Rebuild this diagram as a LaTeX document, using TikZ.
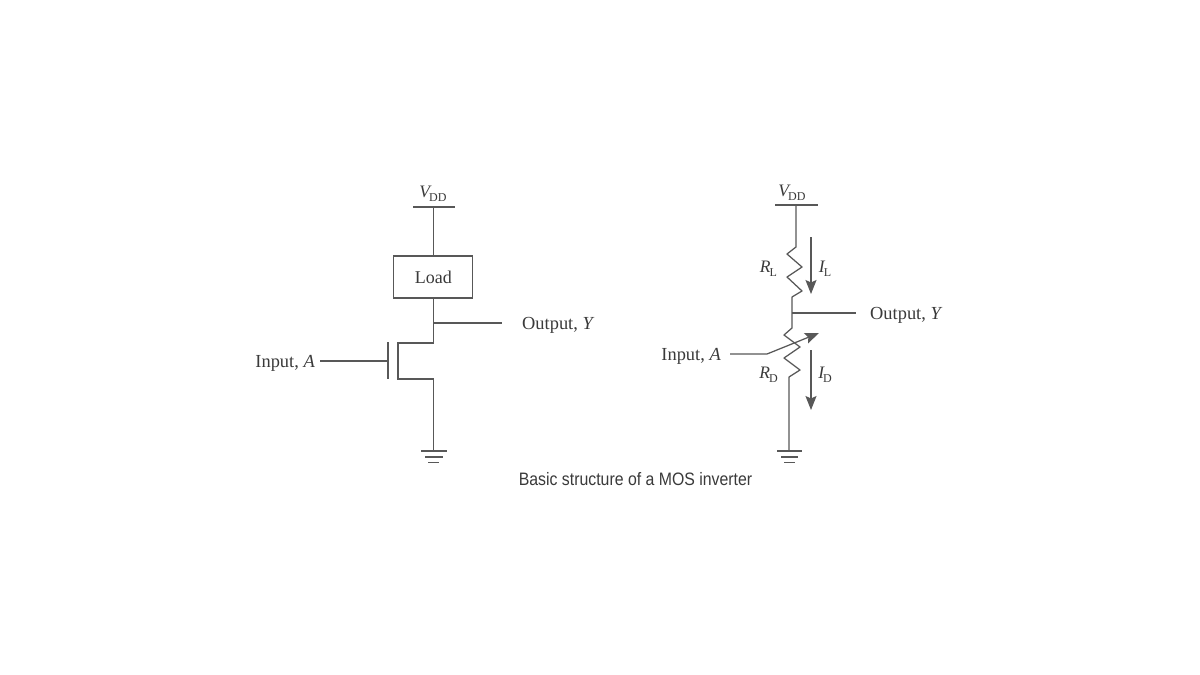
\documentclass[tikz,border=0pt]{standalone}
\usepackage{fontspec}
\setmainfont{Liberation Serif}
\newfontfamily\capfont[FakeStretch=0.88]{Liberation Sans}
\usetikzlibrary{arrows.meta}
\definecolor{ink}{HTML}{3A3A3A}
\newcommand{\varsub}[2]{{\itshape #1}\kern-1pt\raisebox{-0.2em}{\fontsize{12}{12}\selectfont #2}}
\tikzset{
  x=1pt,y=-1pt,
  wire/.style={draw=ink!85,line width=1.25pt},
  lbl/.style={inner sep=0pt,text=ink,font=\fontsize{18.4}{20}\selectfont},
  sym/.style={inner sep=0pt,text=ink,font=\fontsize{17.5}{20}\selectfont},
  loadbox/.style={draw=ink!85,line width=1.25pt,inner sep=0pt,minimum width=79pt,minimum height=42pt,text=ink,font=\fontsize{18}{20}\selectfont},
  current/.style={wire,-{Stealth[length=14pt,width=11pt,inset=2.5pt]}},
  gate/.style={wire,-{Stealth[length=14pt,width=11pt,inset=2.5pt]}},
  captext/.style={inner sep=0pt,text=ink,font=\capfont\fontsize{18}{20}\selectfont}
}
\begin{document}
\begin{tikzpicture}
\useasboundingbox[fill=white] (0,0) rectangle (1200,675);
% left circuit
\node[sym] (vl) at (433,194) {\varsub{V}{DD}};
\coordinate (vla) at (413,207); \coordinate (vlb) at (455,207); \coordinate (vlc) at (433.3,207);
\draw[wire] (vla) -- (vlb);
\node[loadbox] (load) at (433.3,277) {Load};
\draw[wire] (vlc) -- (load.north);
\coordinate (outj) at (433.3,323); \coordinate (drain) at (433.3,343);
\coordinate (chd) at (398,343); \coordinate (chs) at (398,379);
\coordinate (src) at (433.3,379); \coordinate (gndl) at (433.3,451);
\draw[wire,line join=miter] (load.south) -- (outj) -- (drain) -- (chd) -- (chs) -- (src) -- (gndl);
\coordinate (oute) at (502,323);
\draw[wire] (outj) -- (oute);
\node[lbl,anchor=west] (outl) at (522,325.5) {Output, \textit{Y}};
\node[lbl,anchor=east] (inl) at (315,363.5) {Input, \textit{A}};
\coordinate (gt) at (388,342); \coordinate (gb) at (388,379); \coordinate (gm) at (388,361); \coordinate (ins) at (320,361);
\draw[wire] (gt) -- (gb);
\draw[wire] (ins) -- (gm);
\draw[wire] (421,451) coordinate (g1) -- (447,451) coordinate (g2);
\draw[wire] (425,457) coordinate (g3) -- (443,457) coordinate (g4);
\draw[wire] (428,462.5) coordinate (g5) -- (439,462.5) coordinate (g6);
% right circuit
\node[sym] (vr) at (792,193) {\varsub{V}{DD}};
\draw[wire] (775,205) coordinate (vra) -- (818,205) coordinate (vrb);
\coordinate (vrc) at (796,205);
\draw[wire,line join=round] (vrc) -- (796,247) -- (787,254) -- (802,267) -- (787,277) -- (802,291) -- (792,297) -- (792,328)
  -- (784,335) -- (800,347) -- (784,358) -- (800,370) -- (789,377) -- (789,451) coordinate (gndr);
\coordinate (outr) at (792,313); \coordinate (outre) at (856,313);
\draw[wire] (outr) -- (outre);
\node[lbl,anchor=west] (outrl) at (870,315.5) {Output, \textit{Y}};
\node[lbl,anchor=east] (inr) at (721,356.5) {Input, \textit{A}};
\coordinate (ia) at (730,354); \coordinate (ib) at (767,354); \coordinate (ic) at (819,333);
\draw[gate] (ia) -- (ib) -- (ic);
\coordinate (ila) at (811,237); \coordinate (ilb) at (811,294);
\coordinate (ida) at (811,350); \coordinate (idb) at (811,410);
\draw[current] (ila) -- (ilb);
\draw[current] (ida) -- (idb);
\node[sym] (rl) at (768.5,269) {\varsub{R}{L}};
\node[sym] (il) at (825,269) {\varsub{I}{L}};
\node[sym] (rd) at (768.5,375) {\varsub{R}{D}};
\node[sym] (id) at (825,375) {\varsub{I}{D}};
\draw[wire] (777,451) coordinate (h1) -- (802,451) coordinate (h2);
\draw[wire] (781,457) coordinate (h3) -- (798,457) coordinate (h4);
\draw[wire] (784,462.5) coordinate (h5) -- (795,462.5) coordinate (h6);
% caption
\node[captext] (cap) at (635.5,479) {Basic structure of a MOS inverter};
\end{tikzpicture}
\end{document}
